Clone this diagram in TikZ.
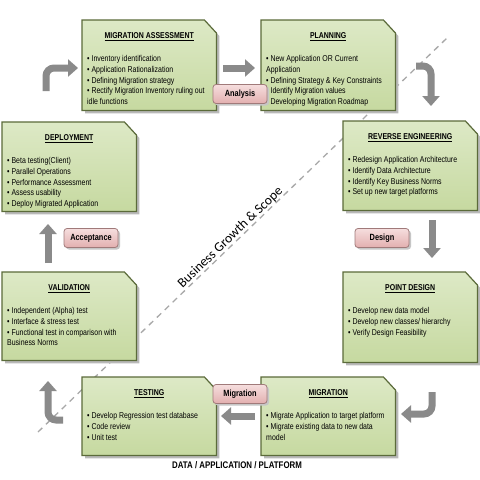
\documentclass[tikz,border=0pt]{standalone}
\usepackage{fontspec}
\setmainfont{Liberation Sans}[FakeStretch=0.82]
\newfontfamily\calib{Carlito}
\usetikzlibrary{arrows.meta}
\definecolor{boxtop}{HTML}{DDE9C6}
\definecolor{boxbot}{HTML}{C6D9A0}
\definecolor{boxline}{HTML}{5B6B3A}
\definecolor{pinktop}{HTML}{F6DEDE}
\definecolor{pinkbot}{HTML}{E2AFAF}
\definecolor{pinkline}{HTML}{A07A7A}
\definecolor{arrowgray}{HTML}{8A8A8A}
\definecolor{dashgray}{HTML}{A8A8A8}
\tikzset{
  stagearea/.style={rectangle, inner sep=0pt, draw=none},
  stagetitle/.style={inner sep=0pt, font=\fontsize{8.5}{10}\selectfont\bfseries},
  stagebody/.style={inner sep=0pt, align=left, font=\fontsize{8.5}{10.6}\selectfont},
  phase/.style={rectangle, rounded corners=3pt, draw=pinkline, line width=0.8pt,
    top color=pinktop, bottom color=pinkbot, minimum width=54pt, minimum height=19pt,
    inner sep=0pt, font=\fontsize{9}{10}\selectfont\bfseries},
  phaseshadow/.style={rectangle, rounded corners=3pt, fill=gray!45, minimum width=54pt, minimum height=19pt, inner sep=0pt},
  bigarrow/.style={draw=arrowgray, line width=7pt, rounded corners=8pt,
    -{Triangle[width=17pt,length=10pt]}},
  growthline/.style={draw=dashgray, line width=1.3pt, dash pattern=on 6pt off 5pt},
}
\newcommand\stage[7]{%
  \node[stagearea, minimum width=#4pt, minimum height=#5pt, anchor=north west] (#1) at (#2,#3) {};
  \fill[gray!55] ([xshift=3pt,yshift=-3pt]#1.north west) -- ([xshift=-9pt,yshift=-3pt]#1.north east)
     -- ([xshift=3pt,yshift=-16pt]#1.north east) -- ([xshift=3pt,yshift=-3pt]#1.south east)
     -- ([xshift=3pt,yshift=-3pt]#1.south west) -- cycle;
  \shadedraw[top color=boxtop, bottom color=boxbot, draw=boxline, line width=1.2pt]
     (#1.north west) -- ([xshift=-12pt]#1.north east) -- ([yshift=-13pt]#1.north east)
     -- (#1.south east) -- (#1.south west) -- cycle;
  \node[stagetitle] (#1-t) at ([yshift=-17pt]#1.north) {\underline{#6}};
  \node[stagebody, anchor=north west] (#1-b) at ([xshift=5pt,yshift=-35.5pt]#1.north west) {#7};
}
\begin{document}
\begin{tikzpicture}[x=1pt,y=-1pt]
\useasboundingbox[fill=white] (0,0) rectangle (480,480);
% growth line
\coordinate (gl1) at (38,432);
\coordinate (gl2) at (447,38);
\draw[growthline] (gl1) -- (gl2);
\node[anchor=base, rotate=43.9, font=\calib\fontsize{13.5}{15}\selectfont, inner sep=0pt] (growth) at (233,240) {Business Growth \& Scope};

% stages
\stage{ma}{82}{20}{134}{90}{MIGRATION ASSESSMENT}{%
\textbullet\ Inventory identification\\
\textbullet\ Application Rationalization\\
\textbullet\ Defining Migration strategy\\
\textbullet\ Rectify Migration Inventory ruling out\\
idle functions}
\stage{pl}{261}{20}{134}{90}{PLANNING}{%
\textbullet\ New Application OR Current\\
Application\\
\textbullet\ Defining Strategy \& Key Constraints\\
\textbullet\ Identify Migration values\\
\textbullet\ Developing Migration Roadmap}
\stage{re}{343}{121}{134}{89}{REVERSE ENGINEERING}{%
\textbullet\ Redesign Application Architecture\\
\textbullet\ Identify Data Architecture\\
\textbullet\ Identify Key Business Norms\\
\textbullet\ Set up new target platforms}
\stage{dp}{2}{122}{134}{89}{DEPLOYMENT}{%
\textbullet\ Beta testing(Client)\\
\textbullet\ Parallel Operations\\
\textbullet\ Performance Assessment\\
\textbullet\ Assess usability\\
\textbullet\ Deploy Migrated Application}
\stage{va}{2}{272}{134}{88}{VALIDATION}{%
\textbullet\ Independent (Alpha) test\\
\textbullet\ Interface \& stress test\\
\textbullet\ Functional test in comparison with\\
Business Norms}
\stage{pd}{343}{272}{134}{90}{POINT DESIGN}{%
\textbullet\ Develop new data model\\
\textbullet\ Develop new classes/ hierarchy\\
\textbullet\ Verify Design Feasibility}
\stage{te}{82}{377}{134}{78}{TESTING}{%
\textbullet\ Develop Regression test database\\
\textbullet\ Code review\\
\textbullet\ Unit test}
\stage{mi}{261}{377}{134}{78}{MIGRATION}{%
\textbullet\ Migrate Application to target platform\\
\textbullet\ Migrate existing data to new data\\
model}

% arrows
\coordinate (a1s) at (46,91);  \coordinate (a1e) at (78,68);
\coordinate (a2s) at (223,68); \coordinate (a2e) at (255,68);
\coordinate (a3s) at (416,66); \coordinate (a3e) at (431,106);
\coordinate (a4s) at (432,220); \coordinate (a4e) at (432,258);
\coordinate (a5s) at (432,392); \coordinate (a5e) at (401,414);
\coordinate (a6s) at (255,416); \coordinate (a6e) at (221,416);
\coordinate (a7s) at (63,420); \coordinate (a7e) at (48,381);
\coordinate (a8s) at (48,263); \coordinate (a8e) at (48,224);
\draw[bigarrow] (a1s) |- (a1e);
\draw[bigarrow] (a2s) -- (a2e);
\draw[bigarrow] (a3s) -| (a3e);
\draw[bigarrow] (a4s) -- (a4e);
\draw[bigarrow] (a5s) |- (a5e);
\draw[bigarrow] (a6s) -- (a6e);
\draw[bigarrow] (a7s) -| (a7e);
\draw[bigarrow] (a8s) -- (a8e);

% phase labels
\node[phaseshadow] at (242,96) {};
\node[phase] (analysis) at (240,94) {Analysis};
\node[phaseshadow] at (93,240) {};
\node[phase] (acceptance) at (91,238) {Acceptance};
\node[phaseshadow] at (384,240) {};
\node[phase] (design) at (382,238) {Design};
\node[phaseshadow] at (242,396) {};
\node[phase] (migration) at (240,394) {Migration};

\node[font=\fontsize{9.6}{11}\selectfont\bfseries, inner sep=0pt] (dap) at (237,465) {DATA / APPLICATION / PLATFORM};
\end{tikzpicture}
\end{document}
